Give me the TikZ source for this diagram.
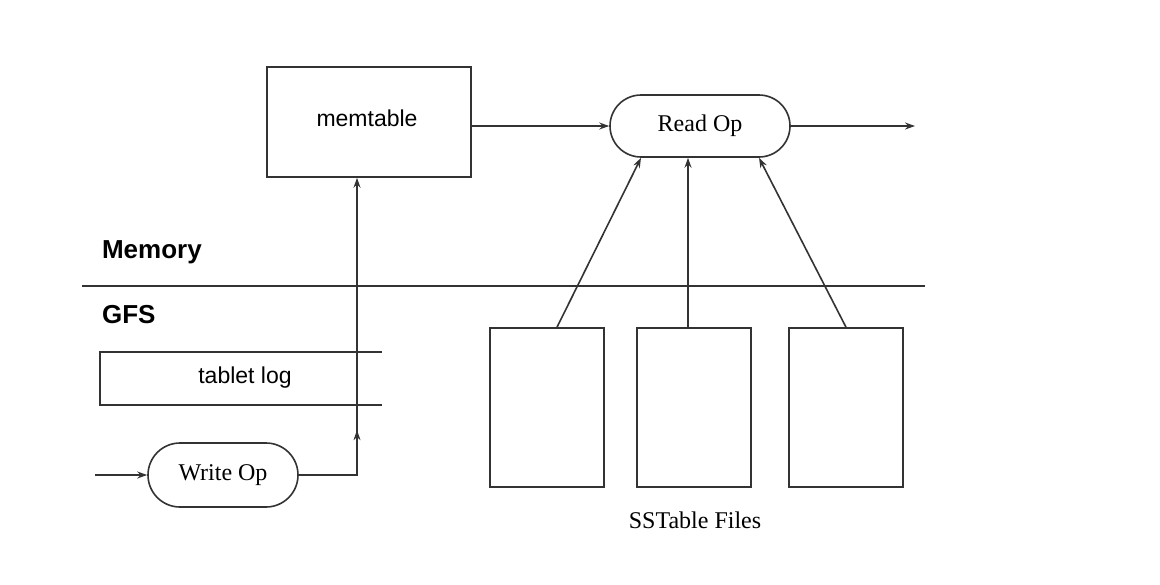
\documentclass[tikz,border=0pt]{standalone}
\usepackage{fontspec}
\setmainfont{Liberation Serif}
\setsansfont{Liberation Sans}
\usetikzlibrary{arrows.meta,shapes.misc,decorations.markings}
\begin{document}
\begin{tikzpicture}[
        x=0.5pt, y=-0.5pt,
        box/.style={rectangle, draw=black!80, thick, inner sep=0pt},
        op/.style={rounded rectangle, draw=black!80, thick, inner sep=0pt, font=\fontsize{12}{14}\selectfont},
        arrow/.style={thick, draw=black!80, -{Stealth[length=5pt,width=3.5pt]}},
        midarrow/.style={postaction={decorate}, decoration={markings, mark=at position #1 with {\arrow{Stealth[length=5pt,width=3.5pt]}}}}
    ]
        \useasboundingbox (0,0) rectangle (1160,584);
        \node (mem) [box, minimum width=102pt, minimum height=55pt, font=\sffamily\fontsize{11.5}{14}\selectfont] at (369,122) {};
        \node at (367,118) [font=\sffamily\fontsize{11.5}{14}\selectfont] {memtable};
        \node (read) [op, minimum width=90pt, minimum height=31pt] at (700,126) {Read Op};
        \node (write) [op, minimum width=75pt, minimum height=32pt] at (223,475) {Write Op};
        \coordinate (out) at (915,126);
        \coordinate (in) at (95,475);
        
        \draw[arrow] (mem.east |- read.west) -- (read.west);
        \draw[arrow] (read.east) -- (out);
        \draw[arrow] (in) -- (write.west);
        
        % memory / GFS
        \node [anchor=west, font=\sffamily\bfseries\fontsize{13}{15}\selectfont] at (95,252) {Memory};
        \node [anchor=west, font=\sffamily\bfseries\fontsize{13}{15}\selectfont] at (95,315) {GFS};
        \draw[thick, black!80] (82,286) -- (925,286);
        
        % tablet log
        \draw[thick, black!80] (382,352) -- (100,352) -- (100,405) -- (382,405);
        \node (log) [font=\sffamily\fontsize{11.5}{14}\selectfont] at (245,378) {tablet log};
        \draw[arrow, midarrow=0.29] (write.east) -| (mem.south -| 357,0);
        
        % sstables
        \foreach \n/\x in {a/547, b/694, c/846} {
            \node (\n) [box, minimum width=57pt, minimum height=79.5pt] at (\x,407.5) {};
        }
        \node [font=\fontsize{12}{14}\selectfont] at (695,520) {SSTable Files};
        \draw[arrow] (a.north -| 557,0) -- (read.south west);
        \draw[arrow] (b.north -| 688,0) -- (read.south -| 688,0);
        \draw[arrow] (c.north) -- (read.south east);
    \end{tikzpicture}
\end{document}
